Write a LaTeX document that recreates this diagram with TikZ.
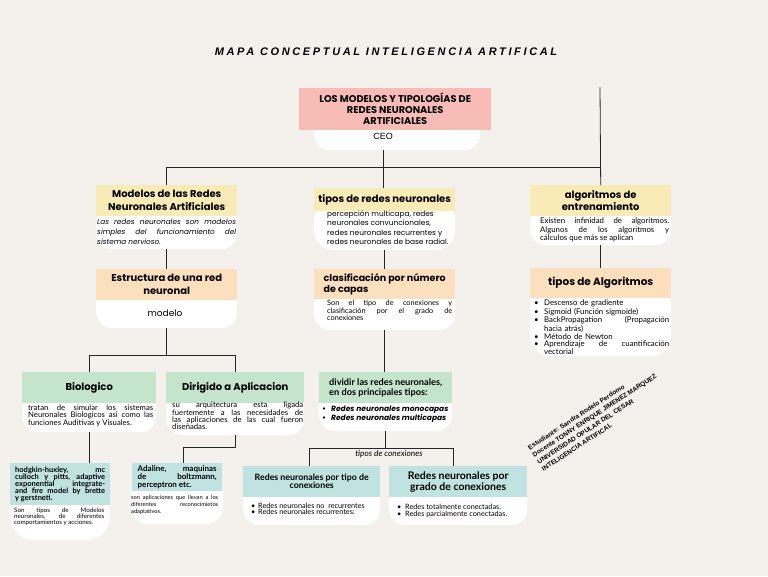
\documentclass[tikz,border=0pt]{standalone}
\usepackage{fontspec}
\setmainfont{Lato}
\newfontfamily\hfont{Poppins}
\newfontfamily\bfont{Lato}
\newfontfamily\tfont{Liberation Sans}[LetterSpace=24]
\newfontfamily\rfont{Liberation Sans}
\newcommand{\myfs}[2]{\fontsize{#1}{#2}\selectfont}
\newcommand{\bul}[1][10pt]{\makebox[#1][l]{\textbullet}}
\definecolor{bgc}{HTML}{F4F0EB}
\definecolor{pinkc}{HTML}{F8BCB6}
\definecolor{yelc}{HTML}{F8EBB6}
\definecolor{peachc}{HTML}{FCDFBC}
\definecolor{grnc}{HTML}{C4E4CB}
\definecolor{tealc}{HTML}{C0E3E1}
\begin{document}
\begin{tikzpicture}[x=1pt,y=-1pt,
  ln/.style={line width=0.8pt, draw=black!85},
  hdr/.style={anchor=north west, inner sep=0pt, align=center, font=\hfont\bfseries\myfs{10}{13}},
  blob/.style={anchor=north west, fill=white, rounded corners=16pt, inner sep=0pt},
  txt/.style={anchor=north west, inner sep=0pt, align=justify}]
\useasboundingbox (0,0) rectangle (768,576);
\fill[bgc] (0,0) rectangle (768,576);

% white blobs
\node[blob, minimum width=166pt, minimum height=38pt] (topb) at (314,112) {};
\node[blob, minimum width=141pt, minimum height=45pt] (m1b) at (96,204) {};
\node[blob, rounded corners=20pt, minimum width=141pt, minimum height=50pt] (m2b) at (314,200) {};
\node[blob, minimum width=141pt, minimum height=40pt] (m3b) at (530,205) {};
\node[blob, minimum width=141pt, minimum height=43pt] (l1b) at (96,285) {};
\node[blob, minimum width=141pt, minimum height=45pt] (l2b) at (314,285) {};
\node[blob, rounded corners=20pt, minimum width=141pt, minimum height=71pt] (l3b) at (530,285) {};
\node[blob, minimum width=134pt, minimum height=42pt] (b1b) at (22,390) {};
\node[blob, minimum width=138pt, minimum height=45pt] (b2b) at (166,390) {};
\node[blob, minimum width=133pt, minimum height=41pt] (c1b) at (319,390) {};
\node[blob, minimum width=137pt, minimum height=43pt] (d1b) at (243,482) {};
\node[blob, minimum width=138pt, minimum height=43pt] (d2b) at (389,482) {};
\node[blob, rounded corners=24pt, minimum width=100pt, minimum height=50pt] (e1b) at (10,490) {};
\node[blob, rounded corners=18pt, minimum width=92pt, minimum height=46pt] (e2b) at (131,478) {};

% headers
\node[hdr, fill=pinkc, font=\hfont\bfseries\myfs{9.8}{11}, minimum width=192pt, minimum height=42pt] (top) at (299,88) {LOS MODELOS Y TIPOLOGÍAS DE\\REDES NEURONALES\\ARTIFICIALES};
\node[hdr, fill=yelc, minimum width=141pt, minimum height=31pt] (m1) at (96,185) {Modelos de las Redes\\Neuronales Artificiales};
\node[hdr, fill=yelc, minimum width=141pt, minimum height=23pt] (m2) at (314,188) {tipos de redes neuronales};
\node[hdr, fill=yelc, font=\hfont\bfseries\myfs{10}{12.5}, minimum width=141pt, minimum height=31pt] (m3) at (530,185) {algoritmos de\\entrenamiento};
\node[hdr, fill=peachc, minimum width=141pt, minimum height=31pt] (l1) at (96,269) {Estructura de una red\\neuronal};
\node[hdr, fill=peachc, align=left, font=\hfont\bfseries\myfs{9.5}{9.5}, minimum width=141pt, minimum height=30pt] (l2) at (314,269) {clasificación por número\\de capas};
\node[hdr, fill=peachc, font=\hfont\bfseries\myfs{10.5}{13}, minimum width=141pt, minimum height=30pt] (l3) at (530,268) {tipos de Algoritmos};
\node[hdr, fill=grnc, minimum width=134pt, minimum height=31pt] (b1) at (22,372) {Biologico};
\node[hdr, fill=grnc, minimum width=138pt, minimum height=31pt] (b2) at (166,372) {Dirigido a Aplicacion};
\node[hdr, fill=grnc, align=left, font=\bfont\bfseries\myfs{9.2}{10}, minimum width=133pt, minimum height=31pt] (c1) at (319,372) {dividir las redes neuronales,\\en dos principales tipos:};
\node[hdr, fill=tealc, font=\bfont\bfseries\myfs{8.8}{8}, minimum width=137pt, minimum height=31pt] (d1) at (243,466) {Redes neuronales por tipo de\\conexiones};
\node[hdr, fill=tealc, font=\bfont\bfseries\myfs{10.5}{11}, minimum width=138pt, minimum height=31pt] (d2) at (389,466) {Redes neuronales por\\grado de conexiones};
\node[hdr, fill=tealc, align=justify, text width=90pt, inner xsep=5pt, font=\bfont\bfseries\myfs{7.5}{7}, minimum width=100pt, minimum height=42pt] (e1) at (10,463) {hodgkin-huxley, mc\linebreak culloch y pitts, adaptive\linebreak exponential integrate-\linebreak and fire model by brette\linebreak y gerstneti.};
\node[hdr, fill=tealc, align=justify, text width=79pt, inner xsep=5.5pt, font=\bfont\bfseries\myfs{8}{7.6}, minimum width=90pt, minimum height=28pt] (e2) at (132,463) {Adaline, maquinas\linebreak de boltzmann,\linebreak perceptron etc.};

% texts
\node[font=\tfont\bfseries\itshape\myfs{11}{13}] (title) at (386,52) {MAPA CONCEPTUAL INTELIGENCIA ARTIFICAL};
\node[txt, anchor=center, font=\rfont\myfs{9}{11}] (ceo) at (383,136) {CEO};
\node[txt, text width=139pt, font=\hfont\itshape\myfs{7.3}{9.7}] (m1t) at (97,219) {Las redes neuronales son modelos\linebreak simples del funcionamiento del\linebreak sistema nervioso.};
\node[txt, align=left, font=\hfont\myfs{7.4}{9.6}] (m2t) at (327,210) {percepción multicapa, redes\\neuronales convuncionales,\\redes neuronales recurrentes y\\redes neuronales de base radial.};
\node[txt, text width=129pt, font=\bfont\myfs{7.8}{6.8}] (m3t) at (540,218) {Existen infinidad de algoritmos.\linebreak Algunos de los algoritmos y\linebreak cálculos que más se aplican};
\node[txt, anchor=center, font=\hfont\myfs{9}{11}] (mod) at (165,313) {modelo};
\node[txt, text width=125pt, font=\bfont\myfs{7.3}{6.2}] (l2t) at (327,300) {Son el tipo de conexiones y\linebreak clasificación por el grado de\linebreak conexiones};
\node[txt, text width=136pt, align=left, font=\bfont\myfs{7.8}{6.8}] (l3t) at (534,300) {\bul Descenso de gradiente\\ \bul Sigmoid (Función sigmoide)\\ \bul\hbox to 125pt{BackPropagation\hfill(Propagación}\\ \hspace*{10pt}hacia atrás)\\ \bul Método de Newton\\ \bul\hbox to 125pt{Aprendizaje\hfill de\hfill cuantificación}\\ \hspace*{10pt}vectorial};
\node[txt, text width=125pt, font=\bfont\myfs{7.7}{7.6}] (b1t) at (28,404.5) {tratan de simular los sistemas\linebreak Neuronales Biologicos asi como las\linebreak funciones Auditivas y Visuales.};
\node[txt, text width=131pt, font=\bfont\myfs{7.7}{7}] (b2t) at (172,401.5) {su arquitectura esta ligada\linebreak fuertemente a las necesidades de\linebreak las aplicaciones de las cual fueron\linebreak diseñadas.};
\node[txt, align=left, font=\hfont\bfseries\itshape\myfs{7.5}{6.5}] (c1t) at (322,406) {\bul[9pt]Redes neuronales monocapas\\ \bul[9pt]Redes neuronales multicapas};
\node[txt, anchor=center, font=\bfont\itshape\myfs{8.3}{10}] (tc) at (389,454) {tipos de conexiones};
\node[txt, align=left, font=\bfont\myfs{7.3}{6.5}] (d1t) at (251,502.5) {\bul[7pt]Redes neuronales no\ \ recurrentes\\ \bul[7pt]Redes neuronales recurrentes:};
\node[txt, align=left, font=\bfont\myfs{7.3}{7.2}] (d2t) at (397,504) {\bul[8pt]Redes totalmente conectadas.\\ \bul[8pt]Redes parcialmente conectadas.};
\node[txt, text width=90pt, font=\bfont\myfs{6.2}{6}] (e1t) at (14,508) {Son tipos de Modelos\linebreak neuronales, de diferentes\linebreak comportamientos y acciones.};
\node[txt, text width=87pt, font=\bfont\myfs{5.7}{6.8}] (e2t) at (131,495.5) {son aplicaciones que llevan a los\linebreak diferentes reconocimietos\linebreak adaptativos.};
\node[rotate=33, anchor=north west, align=left, inner sep=0pt, font=\rfont\bfseries\myfs{6.5}{8.5}] (firma) at (527,446) {Estudiante: Sandra Rodelo Perdomo\\Docente TONNY ENRIQUE JIMENEZ MARQUEZ\\UNIVERSIDAD OPULAR DEL CESAR\\INTELIGENCIA ARTIFICAL};

% connectors
\coordinate (hy) at (383,167);
\coordinate (rtop) at (600,87);
\coordinate (h2) at (166,355);
\coordinate (k) at (183,447);
\coordinate (h3l) at (309,448);
\coordinate (h3r) at (453,448);
\draw[ln] (ceo |- topb.south) -- (hy);
\draw[ln] (m1.north |- hy) -- (m3.north |- hy);
\draw[ln] (m1.north |- hy) -- (m1.north);
\draw[ln] (hy) -- (hy |- m2.north);
\draw[ln] (rtop) -- (m3.north);
\draw[ln] (m1b.south) -- (l1.north);
\draw[ln] (m2b.south) -- (l2.north);
\draw[ln] (m3b.south) -- (l3.north);
\draw[ln] (l1b.south) -- (l1b.south |- h2);
\draw[ln] (b1.north |- h2) -- (b2.north |- h2);
\draw[ln] (b1.north |- h2) -- (b1.north);
\draw[ln] (b2.north |- h2) -- (b2.north);
\draw[ln] (l2b.south) -- (l2b.south |- c1.north);
\draw[ln] (b1b.south) -- (b1b.south |- e1.north);
\draw[ln] (b2b.south) |- (k) -- (k |- e2.north);
\draw[ln] (c1b.south) -- (c1b.south |- h3l);
\draw[ln] (h3l |- d1.north) -- (h3l) -- (h3r) -- (h3r |- d2.north);
\end{tikzpicture}
\end{document}
